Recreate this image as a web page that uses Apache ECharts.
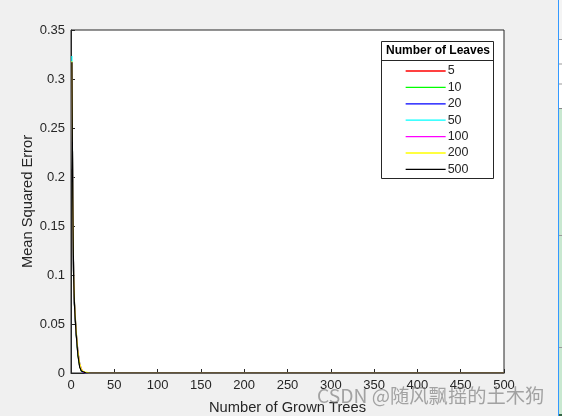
<!DOCTYPE html>
<html>
<head>
<meta charset="utf-8">
<style>
html,body{margin:0;padding:0;background:#f0f0f0}
#chart{width:562px;height:416px}
</style>
<script src="https://cdn.jsdelivr.net/npm/echarts@6/dist/echarts.min.js"></script>
</head>
<body>
<div id="chart"></div>
<script>
var trees = [1,2,3,4,5,6,8,10,12,14,17,21,30,100,500]
var leaves = ['5','10','20','50','100','200','500']
var colors = ['#ff0000','#00ff00','#0000ff','#00ffff','#ff00ff','#ffff00','#000000']
var mse5   = [0.317,0.180,0.100,0.070,0.054,0.040,0.019,0.007,0.002,0.0005,0.0001,0,0,0,0]
var mse10  = [0.317,0.180,0.100,0.070,0.054,0.040,0.019,0.007,0.002,0.0005,0.0001,0,0,0,0]
var mse20  = [0.317,0.181,0.101,0.071,0.055,0.041,0.021,0.009,0.003,0.0007,0.0002,0,0,0,0]
var mse50  = [0.3235,0.182,0.102,0.072,0.056,0.042,0.021,0.010,0.003,0.0008,0.0002,0,0,0,0]
var mse100 = [0.317,0.182,0.102,0.072,0.056,0.042,0.022,0.010,0.004,0.0009,0.0002,0,0,0,0]
var mse200 = [0.318,0.183,0.103,0.073,0.057,0.043,0.022,0.010,0.004,0.0015,0.0008,0.0002,0,0,0]
var mse500 = [0.317,0.179,0.099,0.069,0.053,0.039,0.018,0.006,0.002,0.0004,0.0001,0,0,0,0]
var allMse = [mse5,mse10,mse20,mse50,mse100,mse200,mse500]

var font = 'Arial, "Liberation Sans", sans-serif'
var series = leaves.map(function(name,i){
    return {
        name:name,
        type:'line',
        showSymbol:false,
        symbol:'none',
        silent:true,
        data:trees.map(function(t,k){return [t,allMse[i][k]]}),
        lineStyle:{color:colors[i],width:1.2},
        itemStyle:{color:colors[i]}
    }
})

function stripe(x,y,w,h,fill){
    return {type:'rect',silent:true,shape:{x:x,y:y,width:w,height:h},style:{fill:fill}}
}

var chart = echarts.init(document.getElementById('chart'),null,{renderer:'canvas'})
chart.setOption({
    animation:false,
    backgroundColor:'#f0f0f0',
    grid:{left:71,top:30,width:433,height:343,outerBoundsMode:'none',show:true,backgroundColor:'#ffffff',borderColor:'#262626',borderWidth:1},
    xAxis:{
        type:'value',min:0,max:500,interval:50,
        name:'Number of Grown Trees',nameLocation:'middle',nameGap:27,nameMoveOverlap:false,
        nameTextStyle:{fontFamily:font,fontSize:14.7,color:'#262626'},
        axisLine:{onZero:false,lineStyle:{color:'#262626'}},
        axisTick:{inside:true,length:4,lineStyle:{color:'#262626'}},
        axisLabel:{fontFamily:font,fontSize:13,color:'#262626',margin:6,hideOverlap:false},
        splitLine:{show:false}
    },
    yAxis:{
        type:'value',min:0,max:0.35,interval:0.05,
        name:'Mean Squared Error',nameLocation:'middle',nameGap:36,nameMoveOverlap:false,
        nameTextStyle:{fontFamily:font,fontSize:14.7,color:'#262626'},
        axisLine:{lineStyle:{color:'#262626'}},
        axisTick:{inside:true,length:4,lineStyle:{color:'#262626'}},
        axisLabel:{fontFamily:font,fontSize:13,color:'#262626',margin:6,
            formatter:function(v){return String(+v.toFixed(2))}},
        splitLine:{show:false}
    },
    legend:{
        left:405,top:64,
        orient:'vertical',
        padding:0,
        itemWidth:40,itemHeight:14,itemGap:2.4,
        selectedMode:false,
        itemStyle:{opacity:0},
        lineStyle:{width:1.3},
        textStyle:{fontFamily:font,fontSize:12.5,color:'#262626',lineHeight:14,padding:[0,0,0,-3]},
        data:leaves
    },
    title:{
        text:'Number of Leaves',
        left:386,top:45,
        padding:0,
        textStyle:{fontFamily:font,fontSize:12,fontWeight:'bold',color:'#000000'}
    },
    graphic:[
        // legend box
        {type:'rect',silent:true,shape:{x:381.5,y:41.5,width:112,height:137},style:{fill:'#ffffff',stroke:'#262626',lineWidth:1}},
        {type:'line',silent:true,shape:{x1:381,y1:60.5,x2:494,y2:60.5},style:{stroke:'#262626',lineWidth:1}},
        // window edge at the right
        stripe(559,0,3,39,'#f4f4f4'),
        stripe(559,39,3,69,'#ffffff'),
        stripe(559,108,3,306,'#c8e8d0'),
        stripe(559,39,3,1,'#999999'),
        stripe(559,63,3,2,'#cccccc'),
        stripe(559,83,3,2,'#cccccc'),
        stripe(559,108,3,1,'#888888'),
        stripe(559,235,3,1,'#999999'),
        stripe(559,347,3,1,'#999999'),
        stripe(559,414,3,2,'#336644'),
        stripe(558,0,1,416,'#3399ff'),
        {type:'text',silent:true,x:317,y:386,z:100,
            style:{text:'CSDN @随风飘摇的土木狗',fontFamily:'"Noto Sans CJK SC", sans-serif',fontSize:19.3,fill:'rgba(120,120,120,0.65)'}}
    ],
    series:series
})
</script>
</body>
</html>
